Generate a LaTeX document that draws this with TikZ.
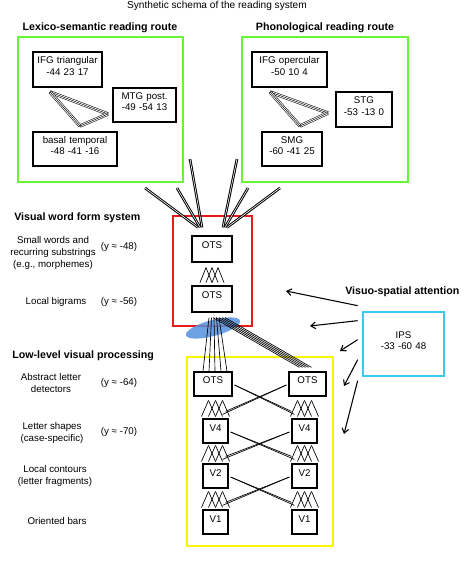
\documentclass[tikz,border=0pt]{standalone}
\usepackage{fontspec}
\setmainfont{Liberation Sans}
\usetikzlibrary{fit,calc,arrows.meta}
\definecolor{routegreen}{RGB}{105,245,55}
\definecolor{vwfred}{RGB}{235,25,25}
\definecolor{lowyellow}{RGB}{250,245,0}
\definecolor{ipscyan}{RGB}{60,200,240}
\definecolor{blob}{RGB}{85,145,220}
\tikzset{
  heading/.style={font=\fontsize{8}{9}\selectfont\bfseries, inner sep=0pt},
  region/.style={draw, fit={#1}, inner sep=0pt},
  area/.style={draw, line width=0.9pt, fit={#1}, inner sep=0pt, align=center},
  fiber/.style={double, double distance=0.45pt, line width=0.75pt},
  thinline/.style={line width=0.5pt},
  attn/.style={line width=0.8pt, -{Straight Barb[length=3.5pt,width=5pt]}},
  lab/.style={align=center, inner sep=0pt},
}
\newcommand\tripleedge[2]{%
  \draw[line width=2.5pt] #1 -- #2;
  \draw[line width=1.7pt, white, shorten <=0.3pt, shorten >=0.3pt] #1 -- #2;
  \draw[line width=0.35pt] #1 -- #2;}
\begin{document}
\begin{tikzpicture}[x=0.75pt,y=-0.75pt, font=\fontsize{7.3}{8.7}\selectfont]
\useasboundingbox (0,0) rectangle (474,564);

% title and headings
\node (title) at (217,6) {\fontsize{7.6}{9}\selectfont Synthetic schema of the reading system};
\node[heading] (lexh) at (100,28) {Lexico-semantic reading route};
\node[heading] (phonh) at (325,28) {Phonological reading route};
\node[heading, anchor=west] (vwfh) at (14,218) {Visual word form system};
\node[heading, anchor=west] (lowh) at (12,356) {Low-level visual processing};
\node[heading, anchor=west] (vsah) at (345,292) {Visuo-spatial attention};

% regions
\node[region={(18,37) (183,182)}, draw=routegreen, line width=2.2pt] (lexbox) {};
\node[region={(242,37) (408,182)}, draw=routegreen, line width=2.2pt] (phonbox) {};
\node[region={(173,216) (252,326)}, draw=vwfred, line width=1.6pt] (vwfbox) {};
\node[region={(187,357) (333,546)}, draw=lowyellow, line width=2pt] (lowbox) {};
\node[region={(363,312) (444,376)}, draw=ipscyan, line width=2pt, align=center] (ips) {IPS\\-33 -60 48};

% lexico-semantic route
\node[area={(33,52) (102,87)}] (ifgt) {IFG triangular\\-44 23 17};
\node[area={(113,88) (176,122)}] (mtg) {MTG post.\\-49 -54 13};
\node[area={(33,132) (117,166)}] (basal) {basal temporal\\-48 -41 -16};
\coordinate (la) at (50,92);
\coordinate (lb) at (108,114);
\coordinate (lc) at (80,126);
\tripleedge{(la)}{(lb)}
\tripleedge{(lb)}{(lc)}
\tripleedge{(lc)}{(la)}

% phonological route
\node[area={(252,52) (327,87)}] (ifgo) {IFG opercular\\-50 10 4};
\node[area={(336,92) (392,127)}] (stg) {STG\\-53 -13 0};
\node[area={(262,132) (322,166)}] (smg) {SMG\\-60 -41 25};
\coordinate (pa) at (270,92);
\coordinate (pb) at (328,113);
\coordinate (pc) at (300,126);
\tripleedge{(pa)}{(pb)}
\tripleedge{(pb)}{(pc)}
\tripleedge{(pc)}{(pa)}

% visual word form system
\node[area={(192,236) (232,262)}] (otsA) {OTS};
\node[area={(192,286) (232,312)}] (otsB) {OTS};
\foreach \t in {-6,0,6}{
  \draw[thinline] ($(otsA.south)+(\t,5)$) -- ($(otsA.south)+(\t-6,20)$);
  \draw[thinline] ($(otsA.south)+(\t,5)$) -- ($(otsA.south)+(\t+6,20)$);
}

% fibers from the two routes into the VWFA
\coordinate (fl1) at (145,188);
\coordinate (fl2) at (177,188);
\coordinate (fl3) at (190,159);
\coordinate (fr1) at (280,188);
\coordinate (fr2) at (248,188);
\coordinate (fr3) at (237,159);
\draw[fiber] (fl1) -- ($(otsA.north)+(-14,-8)$);
\draw[fiber] (fl2) -- ($(otsA.north)+(-12,-8)$);
\draw[fiber] (fl3) -- ($(otsA.north)+(-10,-8)$);
\draw[fiber] (fr3) -- ($(otsA.north)+(11,-8)$);
\draw[fiber] (fr2) -- ($(otsA.north)+(13,-8)$);
\draw[fiber] (fr1) -- ($(otsA.north)+(15,-8)$);

% low-level columns
\node[area={(194,372) (232,396)}] (otsL) {OTS};
\node[area={(289,372) (326,396)}] (otsR) {OTS};
\node[area={(203,419) (228,443)}] (v4L) {V4};
\node[area={(292,419) (317,443)}] (v4R) {V4};
\node[area={(203,464) (228,488)}] (v2L) {V2};
\node[area={(292,464) (317,488)}] (v2R) {V2};
\node[area={(203,510) (228,534)}] (v1L) {V1};
\node[area={(292,510) (317,534)}] (v1R) {V1};

% blue blob
\fill[blob, fill opacity=0.85] (213,328) ellipse [x radius=28, y radius=8, rotate=15];

% fibers from otsB down to the letter detectors
\foreach \s/\e in {-3/-10, -0.5/-4, 2/2, 4.5/8, 7/14}{
  \draw[thinline] ($(otsB.south)+(\s,5)$) -- ($(otsL.north)+(\e,0)$);
}
\foreach \s/\e in {1/-8, 4/-5, 7/-2, 10/1, 13/4}{
  \draw[thinline] ($(otsB.south)+(\s,5)$) -- ($(otsR.north)+(\e,-4)$);
}

% fans between levels
\foreach \up/\lo in {otsL/v4L, otsR/v4R, v4L/v2L, v4R/v2R, v2L/v1L, v2R/v1R}{
  \foreach \t in {-7,0,7}{
    \draw[thinline] ($(\lo.north)+(\t,-18)$) -- ($(\lo.north)+(\t-7,-2)$);
    \draw[thinline] ($(\lo.north)+(\t,-18)$) -- ($(\lo.north)+(\t+7,-2)$);
  }
}

% crossing connections
\foreach \l/\r/\lo/\ro in {otsL/otsR/v4L/v4R, v4L/v4R/v2L/v2R, v2L/v2R/v1L/v1R}{
  \draw[thinline] ($(\l.east)+(2,1)$) -- ($(\ro.north)+(-13,-7)$);
  \draw[thinline] ($(\l.east)+(2,1)$) -- ($(\ro.north)+(-10,-4)$);
  \draw[thinline] ($(\r.west)+(-2,1)$) -- ($(\lo.north)+(10,-7)$);
  \draw[thinline] ($(\r.west)+(-2,1)$) -- ($(\lo.north)+(7,-4)$);
}

% side labels
\node[lab] (l1) at (53,253) {Small words and\\recurring substrings\\(e.g., morphemes)};
\node[lab] (y1) at (119,247) {(y ≈ -48)};
\node[lab] (l2) at (56,302) {Local bigrams};
\node[lab] (y2) at (119,302) {(y ≈ -56)};
\node[lab] (l3) at (51,383) {Abstract letter\\detectors};
\node[lab] (y3) at (119,383) {(y ≈ -64)};
\node[lab] (l4) at (52,433) {Letter shapes\\(case-specific)};
\node[lab] (y4) at (119,432) {(y ≈ -70)};
\node[lab] (l5) at (55,476) {Local contours\\(letter fragments)};
\node[lab] (l6) at (57,521) {Oriented bars};

% attention arrows
\coordinate (t1) at (286,291);
\coordinate (t2) at (310,326);
\coordinate (t3) at (340,351);
\coordinate (t4) at (344,386);
\coordinate (t5) at (344,434);
\draw[attn] ($(ips.north west)+(-4,-5)$) -- (t1);
\draw[attn] ($(ips.north west)+(-4,10)$) -- (t2);
\draw[attn] ($(ips.north west)+(-4,29)$) -- (t3);
\draw[attn] ($(ips.north west)+(-4,49)$) -- (t4);
\draw[attn] ($(ips.north west)+(-4,70)$) -- (t5);
\end{tikzpicture}
\end{document}
